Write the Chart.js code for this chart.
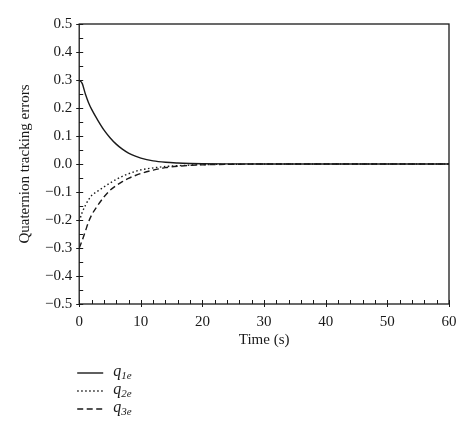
<!DOCTYPE html>
<html>
<head>
<meta charset="utf-8">
<script src="https://cdn.jsdelivr.net/npm/chart.js@4.4.0/dist/chart.umd.min.js"></script>
<style>
  html, body { margin: 0; padding: 0; background: #fff; }
  #wrap { width: 474px; height: 433px; }
</style>
</head>
<body>
<div id="wrap"><canvas id="myChart"></canvas></div>
<script>
// Data
const timeS = [0, 0.5, 1, 1.5, 2, 3, 4, 5, 6, 7, 8, 9, 10, 12, 14, 16, 18, 20, 25, 30, 40, 50, 60];
const q1e = [0.300, 0.287, 0.250, 0.220, 0.196, 0.157, 0.122, 0.094, 0.071, 0.053, 0.039, 0.029, 0.021, 0.011, 0.006, 0.0035, 0.002, 0.001, 0.0003, 0, 0, 0, 0];
const q2e = [-0.205, -0.172, -0.148, -0.128, -0.113, -0.097, -0.082, -0.068, -0.055, -0.044, -0.035, -0.027, -0.021, -0.014, -0.009, -0.006, -0.004, -0.002, -0.001, 0, 0, 0, 0];
const q3e = [-0.300, -0.272, -0.240, -0.208, -0.183, -0.148, -0.118, -0.094, -0.077, -0.063, -0.051, -0.042, -0.034, -0.022, -0.013, -0.008, -0.005, -0.003, -0.001, 0, 0, 0, 0];
const seriesNames = ['q1e', 'q2e', 'q3e'];
const xTicks = [0, 10, 20, 30, 40, 50, 60];
const yTicks = [-0.5, -0.4, -0.3, -0.2, -0.1, 0, 0.1, 0.2, 0.3, 0.4, 0.5];

const ink = '#1a1a1a';
const serif = '"Liberation Serif", "DejaVu Serif", serif';

function toPoints(vals) {
    return timeS.map((t, i) => ({ x: t, y: vals[i] }));
}

// frame + inward ticks (minor ticks too)
const frameTicks = {
    id: 'frameTicks',
    afterDraw(chart) {
        const ctx = chart.ctx;
        const a = chart.chartArea;
        const x = chart.scales.x, y = chart.scales.y;
        ctx.save();
        ctx.strokeStyle = ink;
        ctx.lineWidth = 1.3;
        ctx.strokeRect(a.left, a.top, a.right - a.left, a.bottom - a.top);
        ctx.lineWidth = 1;
        ctx.beginPath();
        for (let v = 0; v <= 60; v += 2) {
            const px = Math.round(x.getPixelForValue(v)) + 0.5;
            const major = v % 10 === 0;
            ctx.moveTo(px, a.bottom + (major ? 3 : 0));
            ctx.lineTo(px, a.bottom - 4);
        }
        for (let i = -10; i <= 10; i++) {
            const py = Math.round(y.getPixelForValue(i * 0.05)) + 0.5;
            const major = i % 2 === 0;
            ctx.moveTo(a.left - (major ? 3 : 0), py);
            ctx.lineTo(a.left + 4, py);
        }
        ctx.stroke();
        ctx.restore();
    }
};

// legend list under the axes, q with italic subscript
const stackLegend = {
    id: 'stackLegend',
    afterDraw(chart) {
        const ctx = chart.ctx;
        const a = chart.chartArea;
        ctx.save();
        chart.data.datasets.forEach((ds, i) => {
            const yy = a.bottom + 69 + i * 18;
            ctx.strokeStyle = ds.borderColor;
            ctx.lineWidth = ds.borderWidth;
            ctx.setLineDash(ds.borderDash || []);
            ctx.beginPath();
            ctx.moveTo(a.left - 2, yy);
            ctx.lineTo(a.left + 24, yy);
            ctx.stroke();
            ctx.setLineDash([]);
            ctx.fillStyle = ink;
            ctx.textBaseline = 'alphabetic';
            ctx.font = 'italic 16px ' + serif;
            const name = ds.label;
            ctx.fillText(name[0], a.left + 34, yy + 3);
            const w = ctx.measureText(name[0]).width;
            ctx.font = 'italic 11px ' + serif;
            ctx.fillText(name.slice(1), a.left + 34 + w, yy + 6);
        });
        ctx.restore();
    }
};

const ctx = document.getElementById('myChart').getContext('2d');
const myChart = new Chart(ctx, {
    type: 'line',
    data: {
        datasets: [
            { label: seriesNames[0], data: toPoints(q1e), borderColor: ink, borderWidth: 1.4, borderDash: [] },
            { label: seriesNames[1], data: toPoints(q2e), borderColor: ink, borderWidth: 1.4, borderDash: [1.5, 2.5] },
            { label: seriesNames[2], data: toPoints(q3e), borderColor: ink, borderWidth: 1.4, borderDash: [6, 3.5] }
        ]
    },
    options: {
        responsive: true,
        maintainAspectRatio: false,
        animation: false,
        layout: { padding: { top: 24, right: 25, bottom: 84, left: 16 } },
        elements: {
            point: { radius: 0 },
            line: { cubicInterpolationMode: 'monotone', fill: false }
        },
        plugins: {
            legend: { display: false },
            tooltip: { enabled: false }
        },
        scales: {
            x: {
                type: 'linear',
                min: 0, max: 60,
                afterBuildTicks: s => { s.ticks = xTicks.map(v => ({ value: v })); },
                grid: { display: false, drawTicks: false },
                border: { display: false },
                ticks: {
                    padding: 9,
                    color: ink,
                    font: { family: serif, size: 15 },
                    maxRotation: 0,
                    callback: v => String(v)
                },
                title: {
                    display: true,
                    text: 'Time (s)',
                    color: ink,
                    font: { family: serif, size: 15 },
                    padding: { top: -9, bottom: 0 }
                }
            },
            y: {
                min: -0.5, max: 0.5,
                afterBuildTicks: s => { s.ticks = yTicks.map(v => ({ value: v })); },
                grid: { display: false, drawTicks: false },
                border: { display: false },
                ticks: {
                    padding: 7,
                    color: ink,
                    font: { family: serif, size: 15 },
                    callback: v => Number(v).toFixed(1).replace('-', '\u2212')
                },
                title: {
                    display: true,
                    text: 'Quaternion tracking errors',
                    color: ink,
                    font: { family: serif, size: 15 },
                    padding: { top: 0, bottom: 4 }
                }
            }
        }
    },
    plugins: [frameTicks, stackLegend]
});
</script>
</body>
</html>
